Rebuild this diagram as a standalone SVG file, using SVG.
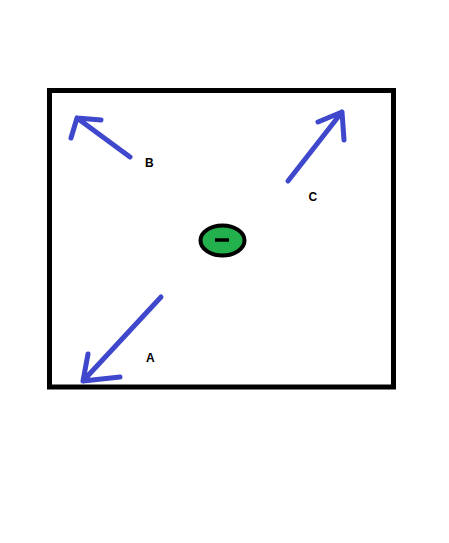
<svg xmlns="http://www.w3.org/2000/svg" width="449" height="543" viewBox="0 0 449 543">
<style>
.arrow{fill:none;stroke:#3F48CC;stroke-width:5;stroke-linecap:round;stroke-linejoin:round}
.lbl{font-family:"Liberation Sans",Arial,sans-serif;font-weight:bold;font-size:12px;fill:#000}
</style>
<rect width="449" height="543" fill="#fff"/>
<g id="box"><rect x="49.5" y="90.5" width="344" height="296.5" fill="none" stroke="#000" stroke-width="5"/></g>
<g id="charge">
<ellipse cx="222.5" cy="240.5" rx="22" ry="15" fill="#22B14C" stroke="#000" stroke-width="4"/>
<line x1="215" y1="240" x2="229" y2="240" stroke="#000" stroke-width="3.5"/>
</g>
<g id="connectors">
<path class="arrow" d="M130 157 L77 118 M101 120 L77 118 L71 138"/>
<path class="arrow" d="M288 181 L342 112 M318 122 L342 112 L344 140"/>
<path class="arrow" d="M161 297 L83 381 M88 354 L83 381 L120 377"/>
</g>
<g id="labels">
<text class="lbl" x="145" y="167">B</text>
<text class="lbl" x="308.5" y="200.5">C</text>
<text class="lbl" x="146" y="362">A</text>
</g>
</svg>
